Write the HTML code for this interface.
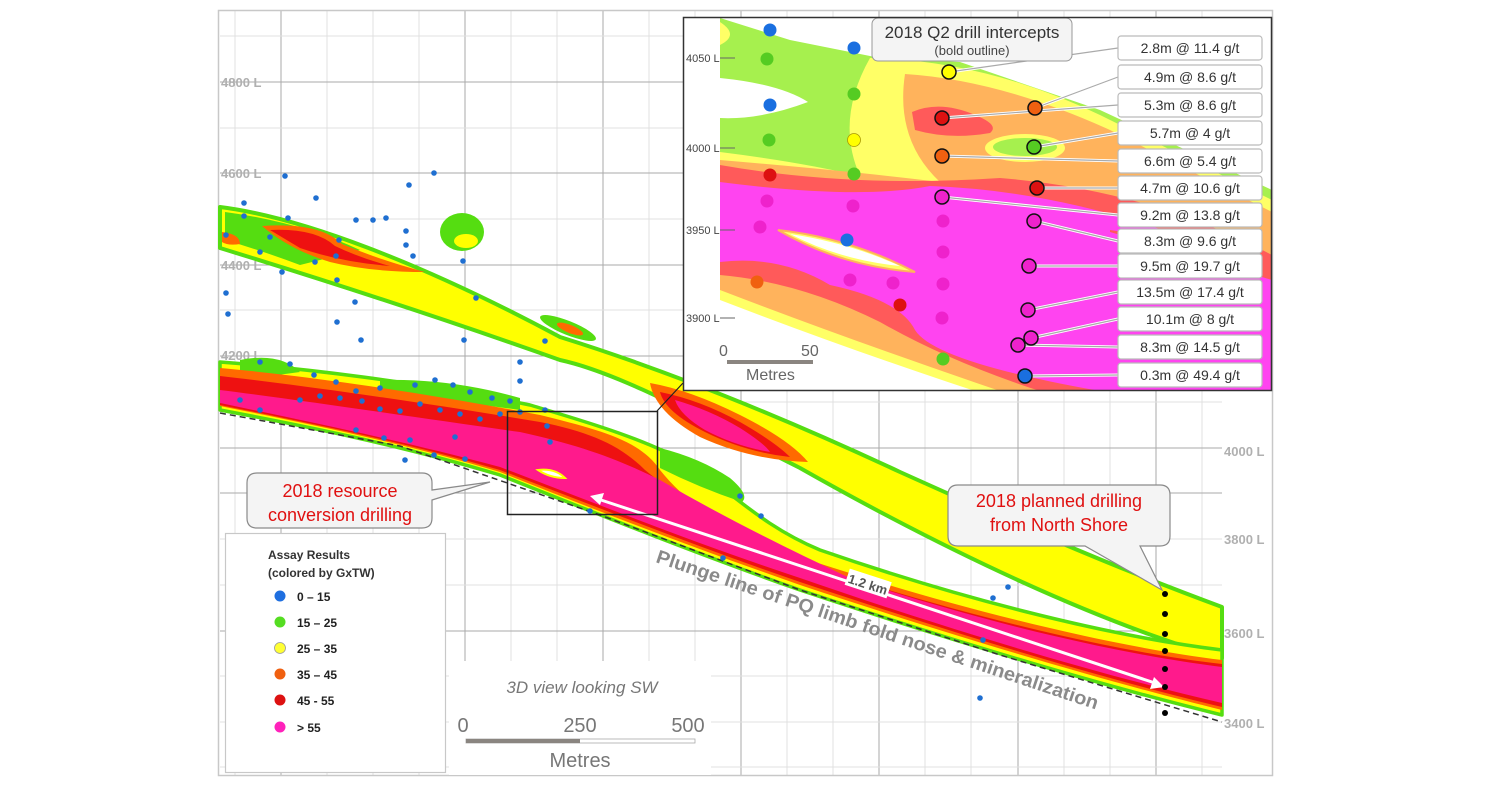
<!DOCTYPE html>
<html><head><meta charset="utf-8"><style>
html,body{margin:0;padding:0;background:#fff;}
svg{display:block;font-family:"Liberation Sans",sans-serif;}
</style></head><body>
<svg width="1500" height="786" viewBox="0 0 1500 786" xmlns="http://www.w3.org/2000/svg">
<rect x="0" y="0" width="1500" height="786" fill="#fff"/>
<!-- grid -->
<g stroke="#e0e0e0" stroke-width="1">
<line x1="235" y1="10" x2="235" y2="776"/><line x1="281" y1="10" x2="281" y2="776" stroke="#aaa"/><line x1="327" y1="10" x2="327" y2="776"/><line x1="373" y1="10" x2="373" y2="776"/><line x1="419" y1="10" x2="419" y2="776"/><line x1="465" y1="10" x2="465" y2="776" stroke="#aaa"/><line x1="511" y1="10" x2="511" y2="776"/><line x1="557" y1="10" x2="557" y2="776"/><line x1="603" y1="10" x2="603" y2="776" stroke="#aaa"/><line x1="649" y1="10" x2="649" y2="776"/><line x1="695" y1="10" x2="695" y2="776"/><line x1="741" y1="10" x2="741" y2="776" stroke="#aaa"/><line x1="787" y1="10" x2="787" y2="776"/><line x1="833" y1="10" x2="833" y2="776"/><line x1="879" y1="10" x2="879" y2="776" stroke="#aaa"/><line x1="925" y1="10" x2="925" y2="776"/><line x1="971" y1="10" x2="971" y2="776"/><line x1="1018" y1="10" x2="1018" y2="776" stroke="#aaa"/><line x1="1064" y1="10" x2="1064" y2="776"/><line x1="1110" y1="10" x2="1110" y2="776"/><line x1="1156" y1="10" x2="1156" y2="776" stroke="#aaa"/><line x1="1202" y1="10" x2="1202" y2="776"/>
<line x1="220" y1="36" x2="1222" y2="36"/><line x1="220" y1="82" x2="1222" y2="82" stroke="#aaa"/><line x1="220" y1="128" x2="1222" y2="128"/><line x1="220" y1="173" x2="1222" y2="173" stroke="#aaa"/><line x1="220" y1="219" x2="1222" y2="219"/><line x1="220" y1="265" x2="1222" y2="265" stroke="#aaa"/><line x1="220" y1="310" x2="1222" y2="310"/><line x1="220" y1="356" x2="1222" y2="356" stroke="#aaa"/><line x1="220" y1="402" x2="1222" y2="402"/><line x1="220" y1="448" x2="1222" y2="448" stroke="#aaa"/><line x1="220" y1="493" x2="1222" y2="493" stroke="#aaa"/><line x1="220" y1="539" x2="1222" y2="539"/><line x1="220" y1="585" x2="1222" y2="585"/><line x1="220" y1="631" x2="1222" y2="631" stroke="#aaa"/><line x1="220" y1="676" x2="1222" y2="676"/><line x1="220" y1="722" x2="1222" y2="722"/><line x1="220" y1="767" x2="1222" y2="767"/>
</g>
<rect x="218.5" y="10.5" width="1054" height="765" fill="none" stroke="#c8c8c8" stroke-width="1.5"/>
<g font-size="13" font-weight="bold" fill="#b0b0b0">
<text x="221" y="87">4800 L</text><text x="221" y="178">4600 L</text><text x="221" y="270">4400 L</text><text x="221" y="360">4200 L</text>
<text x="1224" y="456">4000 L</text><text x="1224" y="544">3800 L</text><text x="1224" y="638">3600 L</text><text x="1224" y="728">3400 L</text>
</g>
<!-- upper band -->
<path d="M220,207 C300,217 420,262 560,337 C640,362 750,402 900,472 C1000,517 1100,562 1222,607 L1222,658 C1100,623 950,553 800,468 C700,418 620,373 560,360 C470,328 350,288 220,248 Z" fill="#ffff00" stroke="#55dd11" stroke-width="4" stroke-linejoin="round"/>
<path d="M225,212 Q 300,222 360,250 L 300,265 Q 260,250 225,240Z" fill="#55dd11"/>
<path d="M262,226 Q 320,222 342,244 Q 380,260 425,272 Q 370,272 330,262 Q 290,250 262,226 Z" fill="#ff6a00"/>
<path d="M270,230 Q 315,228 335,246 Q 360,258 390,266 Q 340,262 300,248 Z" fill="#ee1111"/>
<path d="M222,232 Q 240,234 240,244 Q 228,246 222,242Z" fill="#ff6a00"/>
<ellipse cx="462" cy="232" rx="22" ry="19" fill="#55dd11"/><ellipse cx="466" cy="241" rx="12" ry="7" fill="#ffff00"/>
<ellipse cx="568" cy="328" rx="30" ry="7" transform="rotate(22 568 328)" fill="#55dd11"/><ellipse cx="570" cy="329" rx="14" ry="4" transform="rotate(22 570 329)" fill="#ff6a00"/>
<path d="M650,383 Q 690,390 740,415 Q 790,440 808,462 Q 750,460 700,437 Q 655,412 650,383Z" fill="#ff6a00"/>
<path d="M660,392 Q 700,400 740,422 Q 775,442 790,457 Q 745,452 705,432 Q 665,412 660,392Z" fill="#ee1111"/>
<path d="M675,400 Q 710,410 740,428 Q 765,444 770,452 Q 735,446 705,430 Q 680,415 675,400Z" fill="#ff1a8c"/>
<!-- lower band -->
<path d="M220,362 C300,368 420,382 530,405 C580,420 650,440 690,465 C730,490 760,525 820,550 C950,595 1100,635 1222,650 L1222,715 C1100,685 950,640 800,590 C700,555 600,515 500,475 C400,445 300,425 220,410 Z" fill="#ffff00" stroke="#55dd11" stroke-width="3.5" stroke-linejoin="round"/>
<path d="M660,448 Q 700,458 730,478 Q 750,495 742,502 Q 700,488 660,468Z" fill="#55dd11"/>
<path d="M380,380 Q 450,378 520,398 L 520,410 Q 450,400 380,392Z M240,360 Q 280,352 300,372 L 240,380Z" fill="#55dd11"/>
<path d="M220,368 C300,375 420,392 540,415 C600,430 640,440 660,470 C700,520 760,545 840,570 C950,605 1100,645 1222,660 L1222,710 C1100,680 950,635 800,585 C700,550 600,512 500,472 C400,442 300,422 220,406 Z" fill="#ff6a00"/>
<path d="M220,376 C300,385 420,402 540,422 C590,432 620,445 645,470 C700,515 760,548 840,575 C950,610 1100,650 1222,664 L1222,707 C1100,678 950,632 800,582 C700,548 600,508 500,470 C400,441 300,421 220,405 Z" fill="#ee1111"/>
<path d="M220,390 C300,400 420,418 520,432 C580,445 620,460 660,480 C720,515 780,545 850,578 C950,612 1100,652 1222,667 L1222,703 C1100,675 950,630 800,578 C700,545 600,505 500,467 C400,440 300,420 220,403 Z" fill="#ff1a8c"/>
<path d="M538,470 Q 555,468 565,478 Q 550,478 538,470Z" fill="#fff" stroke="#ffff00" stroke-width="2"/>
<polyline points="220,413 400,446 600,515 800,590 1000,655 1222,722" fill="none" stroke="#333" stroke-width="1.5" stroke-dasharray="6,4"/>
<line x1="598" y1="499" x2="1155" y2="683" stroke="#fff" stroke-width="3"/>
<polygon points="590,496 604,493 600,505" fill="#fff"/>
<polygon points="1164,687 1150,689 1154,677" fill="#fff"/>
<g transform="translate(868,584) rotate(18)"><rect x="-22" y="-9" width="44" height="17" fill="#fff"/><text x="0" y="5" font-size="13" text-anchor="middle" fill="#555" font-weight="bold">1.2 km</text></g>
<text transform="translate(655,562) rotate(18.5)" font-size="19" font-weight="bold" fill="#8a8a8a" textLength="465" lengthAdjust="spacingAndGlyphs">Plunge line of PQ limb fold nose &amp; mineralization</text>
<g fill="#1f6fd1">
<circle cx="244" cy="203" r="2.8"/><circle cx="244" cy="216" r="2.8"/><circle cx="226" cy="235" r="2.8"/><circle cx="285" cy="176" r="2.8"/><circle cx="316" cy="198" r="2.8"/><circle cx="288" cy="218" r="2.8"/><circle cx="356" cy="220" r="2.8"/><circle cx="373" cy="220" r="2.8"/><circle cx="386" cy="218" r="2.8"/><circle cx="409" cy="185" r="2.8"/><circle cx="434" cy="173" r="2.8"/><circle cx="270" cy="237" r="2.8"/><circle cx="339" cy="240" r="2.8"/><circle cx="336" cy="256" r="2.8"/><circle cx="406" cy="231" r="2.8"/><circle cx="406" cy="245" r="2.8"/><circle cx="413" cy="256" r="2.8"/><circle cx="463" cy="261" r="2.8"/><circle cx="260" cy="252" r="2.8"/><circle cx="226" cy="293" r="2.8"/><circle cx="228" cy="314" r="2.8"/><circle cx="282" cy="272" r="2.8"/><circle cx="315" cy="262" r="2.8"/><circle cx="337" cy="280" r="2.8"/><circle cx="355" cy="302" r="2.8"/><circle cx="337" cy="322" r="2.8"/><circle cx="361" cy="340" r="2.8"/><circle cx="476" cy="298" r="2.8"/><circle cx="464" cy="340" r="2.8"/><circle cx="545" cy="341" r="2.8"/><circle cx="520" cy="362" r="2.8"/><circle cx="520" cy="381" r="2.8"/>
<circle cx="260" cy="362" r="2.8"/><circle cx="290" cy="364" r="2.8"/><circle cx="314" cy="375" r="2.8"/><circle cx="336" cy="382" r="2.8"/><circle cx="356" cy="391" r="2.8"/><circle cx="380" cy="388" r="2.8"/><circle cx="415" cy="385" r="2.8"/><circle cx="435" cy="380" r="2.8"/><circle cx="453" cy="385" r="2.8"/><circle cx="470" cy="392" r="2.8"/><circle cx="492" cy="398" r="2.8"/><circle cx="510" cy="401" r="2.8"/><circle cx="545" cy="410" r="2.8"/><circle cx="520" cy="412" r="2.8"/><circle cx="547" cy="426" r="2.8"/><circle cx="550" cy="442" r="2.8"/><circle cx="300" cy="400" r="2.8"/><circle cx="320" cy="396" r="2.8"/><circle cx="340" cy="398" r="2.8"/><circle cx="362" cy="401" r="2.8"/><circle cx="380" cy="409" r="2.8"/><circle cx="400" cy="411" r="2.8"/><circle cx="420" cy="404" r="2.8"/><circle cx="440" cy="410" r="2.8"/><circle cx="460" cy="414" r="2.8"/><circle cx="480" cy="419" r="2.8"/><circle cx="500" cy="414" r="2.8"/><circle cx="455" cy="437" r="2.8"/><circle cx="405" cy="460" r="2.8"/><circle cx="434" cy="455" r="2.8"/><circle cx="410" cy="440" r="2.8"/><circle cx="384" cy="438" r="2.8"/><circle cx="356" cy="430" r="2.8"/><circle cx="465" cy="459" r="2.8"/><circle cx="260" cy="410" r="2.8"/><circle cx="240" cy="400" r="2.8"/>
<circle cx="740" cy="496" r="2.8"/><circle cx="761" cy="516" r="2.8"/><circle cx="723" cy="558" r="2.8"/><circle cx="993" cy="598" r="2.8"/><circle cx="1008" cy="587" r="2.8"/><circle cx="983" cy="640" r="2.8"/><circle cx="980" cy="698" r="2.8"/><circle cx="590" cy="511" r="2.8"/>
</g>
<g fill="#000"><circle cx="1165" cy="594" r="3"/><circle cx="1165" cy="614" r="3"/><circle cx="1165" cy="634" r="3"/><circle cx="1165" cy="651" r="3"/><circle cx="1165" cy="669" r="3"/><circle cx="1165" cy="687" r="3"/><circle cx="1165" cy="713" r="3"/></g>
<rect x="507.5" y="411.5" width="150" height="103" fill="none" stroke="#222" stroke-width="1.5"/>
<line x1="657" y1="411" x2="683" y2="383" stroke="#222" stroke-width="1.2"/>
<path d="M257,473 L422,473 Q432,473 432,483 L432,490 L490,482 L432,500 L432,518 Q432,528 422,528 L257,528 Q247,528 247,518 L247,483 Q247,473 257,473Z" fill="#f4f4f4" stroke="#8a8a8a" stroke-width="1.2"/>
<text x="340" y="497" font-size="18" fill="#e01010" text-anchor="middle">2018 resource</text>
<text x="340" y="521" font-size="18" fill="#e01010" text-anchor="middle">conversion drilling</text>
<path d="M958,485 L1160,485 Q1170,485 1170,495 L1170,536 Q1170,546 1160,546 L1140,546 L1162,590 L1085,546 L958,546 Q948,546 948,536 L948,495 Q948,485 958,485Z" fill="#f4f4f4" stroke="#8a8a8a" stroke-width="1.2"/>
<text x="1059" y="507" font-size="18" fill="#e01010" text-anchor="middle">2018 planned  drilling</text>
<text x="1059" y="531" font-size="18" fill="#e01010" text-anchor="middle">from North Shore</text>
<rect x="225.5" y="533.5" width="220" height="239" fill="#fff" stroke="#c8c8c8" stroke-width="1.2"/>
<g font-size="12" font-weight="bold" fill="#222">
<text x="268" y="559" fill="#333">Assay Results</text><text x="268" y="577" fill="#333">(colored by GxTW)</text>
<circle cx="280" cy="596" r="5.5" fill="#1f6fe0"/><text x="297" y="601">0 – 15</text>
<circle cx="280" cy="622" r="5.5" fill="#55dd22"/><text x="297" y="627">15 – 25</text>
<circle cx="280" cy="648" r="5.5" fill="#ffff33" stroke="#999" stroke-width="0.8"/><text x="297" y="653">25 – 35</text>
<circle cx="280" cy="674" r="5.5" fill="#f06010"/><text x="297" y="679">35 – 45</text>
<circle cx="280" cy="700" r="5.5" fill="#dd1111"/><text x="297" y="705">45 - 55</text>
<circle cx="280" cy="727" r="5.5" fill="#ff22bb"/><text x="297" y="732">&gt; 55</text>
</g>
<rect x="449" y="661" width="262" height="114" fill="#fff"/>
<text x="582" y="693" font-size="17" font-style="italic" fill="#777" text-anchor="middle">3D view looking SW</text>
<g font-size="20" fill="#777" text-anchor="middle"><text x="463" y="732">0</text><text x="580" y="732">250</text><text x="688" y="732">500</text><text x="580" y="767">Metres</text></g>
<rect x="466" y="739" width="229" height="4" fill="#fff" stroke="#aaa" stroke-width="0.8"/><rect x="466" y="739" width="114" height="4" fill="#8a8580"/>
<svg x="683" y="17" width="589" height="374" viewBox="683 17 589 374">
<rect x="683" y="17" width="589" height="374" fill="#fff"/>
<path d="M720,18 L790,40 L880,58 L960,62 L1100,110 L1272,190 L1272,391 L720,391Z" fill="#a6f04e"/>
<path d="M720,22 Q 740,35 720,45Z" fill="#ffff66"/>
<path d="M870,58 Q 985,60 1100,115 L1272,200 L1272,391 L720,391 L720,152 Q 800,162 860,176 Q 835,120 870,58Z" fill="#ffff66"/>
<path d="M905,74 Q 1000,80 1110,130 L1272,212 L1272,391 L720,391 L720,160 Q 860,172 940,182 Q 895,140 905,74Z" fill="#ffb35c"/>
<ellipse cx="1025" cy="148" rx="40" ry="14" fill="#ffff66"/><ellipse cx="1025" cy="147" rx="32" ry="9" fill="#a6f04e"/>
<path d="M912,112 Q 940,100 975,115 Q 1000,125 990,133 Q 950,140 915,130 Z" fill="#ff5a5a"/>
<path d="M720,165 Q 850,188 1000,178 Q 1150,190 1272,255 L1272,391 L720,391Z" fill="#ff5a5a"/>
<path d="M720,182 Q 860,200 930,186 Q 1100,192 1272,275 L1272,391 L720,391Z" fill="#ff44f0"/>
<path d="M1110,230 Q 1180,240 1272,262 L1272,280 Q 1180,252 1110,232Z" fill="#ff5a5a"/>
<path d="M720,262 Q 780,255 830,285 Q 900,300 915,330 Q 935,362 1100,391 L720,391Z" fill="#ff5a5a"/>
<path d="M720,275 Q 800,282 880,322 Q 950,362 1040,391 L720,391Z" fill="#ffb35c"/>
<path d="M720,290 Q 850,340 1000,391 L720,391Z" fill="#ffff66"/>
<path d="M720,300 Q 850,350 975,391 L720,391Z" fill="#fff"/>
<path d="M720,78 Q 780,84 808,102 Q 760,120 720,118Z" fill="#fff"/>
<path d="M778,230 Q 850,238 915,272 Q 840,266 778,230Z" fill="#ffff66" stroke="#ffb35c" stroke-width="2"/>
<path d="M790,234 Q 850,243 900,266 Q 840,260 790,234Z" fill="#fff"/>
<g stroke="#fff" stroke-width="3" fill="none"><polyline points="949,72 1118,48"/><polyline points="1035,108 1118,77"/><polyline points="942,118 1118,105"/><polyline points="1034,147 1118,133"/><polyline points="942,156 1118,161"/><polyline points="1037,188 1118,188"/><polyline points="942,197 1118,215"/><polyline points="1034,221 1118,241"/><polyline points="1029,266 1118,266"/><polyline points="1028,310 1118,292"/><polyline points="1031,338 1118,319"/><polyline points="1018,345 1118,347"/><polyline points="1025,376 1118,375"/></g>
<g stroke="#aaa" stroke-width="1.2" fill="none"><polyline points="949,72 1118,48"/><polyline points="1035,108 1118,77"/><polyline points="942,118 1118,105"/><polyline points="1034,147 1118,133"/><polyline points="942,156 1118,161"/><polyline points="1037,188 1118,188"/><polyline points="942,197 1118,215"/><polyline points="1034,221 1118,241"/><polyline points="1029,266 1118,266"/><polyline points="1028,310 1118,292"/><polyline points="1031,338 1118,319"/><polyline points="1018,345 1118,347"/><polyline points="1025,376 1118,375"/></g>
<g>
<circle cx="770" cy="30" r="6.5" fill="#1a6fe0"/><circle cx="854" cy="48" r="6.5" fill="#1a6fe0"/><circle cx="767" cy="59" r="6.5" fill="#55cc22"/>
<circle cx="854" cy="94" r="6.5" fill="#55cc22"/><circle cx="770" cy="105" r="6.5" fill="#1a6fe0"/><circle cx="769" cy="140" r="6.5" fill="#55cc22"/>
<circle cx="854" cy="140" r="6.5" fill="#ffff00" stroke="#aa9900" stroke-width="0.8"/><circle cx="770" cy="175" r="6.5" fill="#dd1111"/><circle cx="854" cy="174" r="6.5" fill="#55cc22"/>
<circle cx="767" cy="201" r="6.5" fill="#ee22cc"/><circle cx="853" cy="206" r="6.5" fill="#ee22cc"/><circle cx="760" cy="227" r="6.5" fill="#ee22cc"/><circle cx="847" cy="240" r="6.5" fill="#1a6fe0"/>
<circle cx="943" cy="221" r="6.5" fill="#ee22cc"/><circle cx="943" cy="252" r="6.5" fill="#ee22cc"/><circle cx="757" cy="282" r="6.5" fill="#f06010"/><circle cx="850" cy="280" r="6.5" fill="#ee22cc"/><circle cx="893" cy="283" r="6.5" fill="#ee22cc"/><circle cx="943" cy="284" r="6.5" fill="#ee22cc"/><circle cx="900" cy="305" r="6.5" fill="#dd1111"/><circle cx="942" cy="318" r="6.5" fill="#ee22cc"/><circle cx="943" cy="359" r="6.5" fill="#55cc22"/>
</g>
<g stroke="#111" stroke-width="1.5">
<circle cx="949" cy="72" r="7" fill="#ffff00"/><circle cx="1035" cy="108" r="7" fill="#f06010"/><circle cx="942" cy="118" r="7" fill="#dd1111"/><circle cx="1034" cy="147" r="7" fill="#55cc22"/><circle cx="942" cy="156" r="7" fill="#f06010"/><circle cx="1037" cy="188" r="7" fill="#dd1111"/><circle cx="942" cy="197" r="7" fill="#ee22cc"/><circle cx="1034" cy="221" r="7" fill="#ee22cc"/><circle cx="1029" cy="266" r="7" fill="#ee22cc"/><circle cx="1028" cy="310" r="7" fill="#ee22cc"/><circle cx="1031" cy="338" r="7" fill="#ee22cc"/><circle cx="1018" cy="345" r="7" fill="#ee22cc"/><circle cx="1025" cy="376" r="7" fill="#1a6fe0"/>
</g>
<g font-size="11" fill="#444"><text x="686" y="62">4050 L</text><text x="686" y="152">4000 L</text><text x="686" y="234">3950 L</text><text x="686" y="322">3900 L</text></g>
<g stroke="#666" stroke-width="1"><line x1="720" y1="58" x2="735" y2="58"/><line x1="720" y1="148" x2="735" y2="148"/><line x1="720" y1="230" x2="735" y2="230"/><line x1="720" y1="318" x2="735" y2="318"/></g>
<g font-size="16" fill="#666"><text x="719" y="356">0</text><text x="801" y="356">50</text><text x="746" y="380">Metres</text></g>
<rect x="727" y="360" width="86" height="4" fill="#8a8580"/>
<rect x="872" y="18" width="200" height="43" rx="6" fill="#f4f4f4" stroke="#999"/>
<text x="972" y="38" font-size="17" fill="#333" text-anchor="middle">2018 Q2 drill intercepts</text>
<text x="972" y="55" font-size="13" fill="#444" text-anchor="middle">(bold outline)</text>
<g fill="#fff" stroke="#bbb" stroke-width="1.2">
<rect x="1118" y="36" width="144" height="24" rx="3"/><rect x="1118" y="65" width="144" height="24" rx="3"/><rect x="1118" y="93" width="144" height="24" rx="3"/><rect x="1118" y="121" width="144" height="24" rx="3"/><rect x="1118" y="149" width="144" height="24" rx="3"/><rect x="1118" y="176" width="144" height="24" rx="3"/><rect x="1118" y="203" width="144" height="24" rx="3"/><rect x="1118" y="229" width="144" height="24" rx="3"/><rect x="1118" y="254" width="144" height="24" rx="3"/><rect x="1118" y="280" width="144" height="24" rx="3"/><rect x="1118" y="307" width="144" height="24" rx="3"/><rect x="1118" y="335" width="144" height="24" rx="3"/><rect x="1118" y="363" width="144" height="24" rx="3"/>
</g>
<g font-size="14" fill="#333" text-anchor="middle">
<text x="1190" y="53">2.8m @ 11.4 g/t</text><text x="1190" y="82">4.9m @ 8.6 g/t</text><text x="1190" y="110">5.3m @ 8.6 g/t</text><text x="1190" y="138">5.7m @ 4 g/t</text><text x="1190" y="166">6.6m @ 5.4 g/t</text><text x="1190" y="193">4.7m @ 10.6 g/t</text><text x="1190" y="220">9.2m @ 13.8 g/t</text><text x="1190" y="246">8.3m @ 9.6 g/t</text><text x="1190" y="271">9.5m @ 19.7 g/t</text><text x="1190" y="297">13.5m @ 17.4 g/t</text><text x="1190" y="324">10.1m @ 8 g/t</text><text x="1190" y="352">8.3m @ 14.5 g/t</text><text x="1190" y="380">0.3m @ 49.4 g/t</text>
</g>
</svg>
<rect x="683.5" y="17.5" width="588" height="373" fill="none" stroke="#333" stroke-width="1.5"/>
</svg>
</body></html>
